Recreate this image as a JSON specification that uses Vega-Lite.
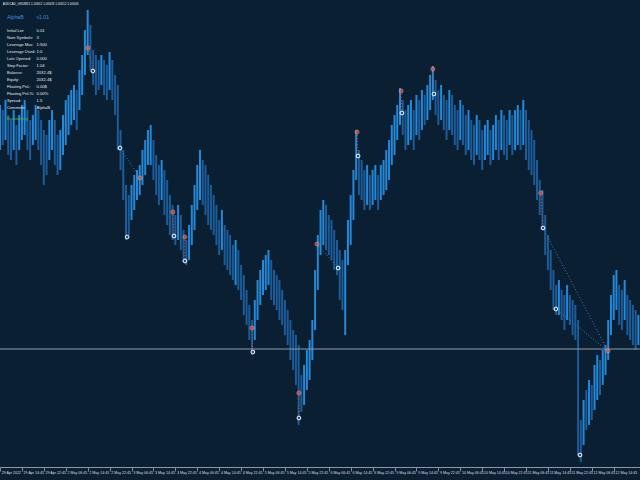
{
"$schema":"https://vega.github.io/schema/vega-lite/v6.json",
"width":640,"height":467,"autosize":"none","padding":{"left":0,"right":0,"top":0,"bottom":13},"background":"#0b1f33",
"config":{"view":{"stroke":null}},
"datasets":{
"bars":[
{"i":0,"h":0.9195,"l":0.9150,"d":"u"},{"i":1,"h":0.9190,"l":0.9155,"d":"d"},{"i":2,"h":0.9200,"l":0.9160,"d":"u"},{"i":3,"h":0.9185,"l":0.9145,"d":"d"},{"i":4,"h":0.9180,"l":0.9140,"d":"d"},{"i":5,"h":0.9190,"l":0.9150,"d":"u"},{"i":6,"h":0.9175,"l":0.9135,"d":"d"},{"i":7,"h":0.9185,"l":0.9150,"d":"u"},{"i":8,"h":0.9195,"l":0.9160,"d":"u"},{"i":9,"h":0.9200,"l":0.9165,"d":"u"},
{"i":10,"h":0.9190,"l":0.9150,"d":"d"},{"i":11,"h":0.9180,"l":0.9140,"d":"d"},{"i":12,"h":0.9185,"l":0.9155,"d":"u"},{"i":13,"h":0.9195,"l":0.9160,"d":"u"},{"i":14,"h":0.9190,"l":0.9150,"d":"d"},{"i":15,"h":0.9180,"l":0.9135,"d":"d"},{"i":16,"h":0.9170,"l":0.9115,"d":"d"},{"i":17,"h":0.9165,"l":0.9125,"d":"d"},{"i":18,"h":0.9180,"l":0.9140,"d":"u"},{"i":19,"h":0.9190,"l":0.9150,"d":"u"},
{"i":20,"h":0.9180,"l":0.9135,"d":"d"},{"i":21,"h":0.9165,"l":0.9125,"d":"d"},{"i":22,"h":0.9170,"l":0.9130,"d":"u"},{"i":23,"h":0.9185,"l":0.9145,"d":"u"},{"i":24,"h":0.9200,"l":0.9155,"d":"u"},{"i":25,"h":0.9205,"l":0.9165,"d":"u"},{"i":26,"h":0.9210,"l":0.9175,"d":"u"},{"i":27,"h":0.9215,"l":0.9180,"d":"u"},{"i":28,"h":0.9210,"l":0.9170,"d":"d"},{"i":29,"h":0.9230,"l":0.9190,"d":"u"},
{"i":30,"h":0.9245,"l":0.9205,"d":"u"},{"i":31,"h":0.9270,"l":0.9225,"d":"u"},{"i":32,"h":0.9290,"l":0.9245,"d":"u"},{"i":33,"h":0.9275,"l":0.9230,"d":"d"},{"i":34,"h":0.9250,"l":0.9215,"d":"d"},{"i":35,"h":0.9245,"l":0.9205,"d":"d"},{"i":36,"h":0.9240,"l":0.9210,"d":"d"},{"i":37,"h":0.9245,"l":0.9215,"d":"u"},{"i":38,"h":0.9240,"l":0.9205,"d":"d"},{"i":39,"h":0.9235,"l":0.9200,"d":"d"},
{"i":40,"h":0.9248,"l":0.9210,"d":"u"},{"i":41,"h":0.9240,"l":0.9200,"d":"d"},{"i":42,"h":0.9225,"l":0.9185,"d":"d"},{"i":43,"h":0.9215,"l":0.9150,"d":"d"},{"i":44,"h":0.9170,"l":0.9130,"d":"d"},{"i":45,"h":0.9150,"l":0.9100,"d":"d"},{"i":46,"h":0.9115,"l":0.9060,"d":"d"},{"i":47,"h":0.9105,"l":0.9065,"d":"d"},{"i":48,"h":0.9115,"l":0.9080,"d":"u"},{"i":49,"h":0.9125,"l":0.9090,"d":"u"},
{"i":50,"h":0.9130,"l":0.9100,"d":"u"},{"i":51,"h":0.9135,"l":0.9105,"d":"u"},{"i":52,"h":0.9150,"l":0.9115,"d":"u"},{"i":53,"h":0.9160,"l":0.9125,"d":"u"},{"i":54,"h":0.9170,"l":0.9135,"d":"u"},{"i":55,"h":0.9175,"l":0.9135,"d":"u"},{"i":56,"h":0.9160,"l":0.9120,"d":"d"},{"i":57,"h":0.9145,"l":0.9105,"d":"d"},{"i":58,"h":0.9135,"l":0.9095,"d":"d"},{"i":59,"h":0.9140,"l":0.9100,"d":"u"},
{"i":60,"h":0.9130,"l":0.9085,"d":"d"},{"i":61,"h":0.9120,"l":0.9075,"d":"d"},{"i":62,"h":0.9105,"l":0.9065,"d":"d"},{"i":63,"h":0.9095,"l":0.9060,"d":"d"},{"i":64,"h":0.9085,"l":0.9055,"d":"d"},{"i":65,"h":0.9095,"l":0.9060,"d":"u"},{"i":66,"h":0.9085,"l":0.9050,"d":"d"},{"i":67,"h":0.9070,"l":0.9038,"d":"d"},{"i":68,"h":0.9060,"l":0.9035,"d":"d"},{"i":69,"h":0.9075,"l":0.9040,"d":"u"},
{"i":70,"h":0.9095,"l":0.9055,"d":"u"},{"i":71,"h":0.9115,"l":0.9070,"d":"u"},{"i":72,"h":0.9135,"l":0.9090,"d":"u"},{"i":73,"h":0.9150,"l":0.9100,"d":"u"},{"i":74,"h":0.9140,"l":0.9095,"d":"d"},{"i":75,"h":0.9135,"l":0.9085,"d":"d"},{"i":76,"h":0.9125,"l":0.9075,"d":"d"},{"i":77,"h":0.9115,"l":0.9070,"d":"d"},{"i":78,"h":0.9105,"l":0.9065,"d":"d"},{"i":79,"h":0.9095,"l":0.9055,"d":"d"},
{"i":80,"h":0.9080,"l":0.9045,"d":"d"},{"i":81,"h":0.9090,"l":0.9050,"d":"u"},{"i":82,"h":0.9075,"l":0.9035,"d":"d"},{"i":83,"h":0.9070,"l":0.9030,"d":"d"},{"i":84,"h":0.9065,"l":0.9025,"d":"d"},{"i":85,"h":0.9055,"l":0.9020,"d":"d"},{"i":86,"h":0.9060,"l":0.9015,"d":"u"},{"i":87,"h":0.9050,"l":0.9010,"d":"d"},{"i":88,"h":0.9035,"l":0.9000,"d":"d"},{"i":89,"h":0.9025,"l":0.8985,"d":"d"},
{"i":90,"h":0.9010,"l":0.8975,"d":"d"},{"i":91,"h":0.8995,"l":0.8960,"d":"d"},{"i":92,"h":0.8980,"l":0.8945,"d":"d"},{"i":93,"h":0.9000,"l":0.8960,"d":"u"},{"i":94,"h":0.9020,"l":0.8980,"d":"u"},{"i":95,"h":0.9030,"l":0.8995,"d":"u"},{"i":96,"h":0.9040,"l":0.9005,"d":"u"},{"i":97,"h":0.9045,"l":0.9010,"d":"u"},{"i":98,"h":0.9050,"l":0.9015,"d":"u"},{"i":99,"h":0.9040,"l":0.9000,"d":"d"},
{"i":100,"h":0.9030,"l":0.8995,"d":"d"},{"i":101,"h":0.9025,"l":0.8990,"d":"d"},{"i":102,"h":0.9020,"l":0.8980,"d":"d"},{"i":103,"h":0.9010,"l":0.8975,"d":"d"},{"i":104,"h":0.9000,"l":0.8965,"d":"d"},{"i":105,"h":0.8990,"l":0.8955,"d":"d"},{"i":106,"h":0.8980,"l":0.8940,"d":"d"},{"i":107,"h":0.8970,"l":0.8930,"d":"d"},{"i":108,"h":0.8965,"l":0.8915,"d":"d"},{"i":109,"h":0.8955,"l":0.8875,"d":"d"},
{"i":110,"h":0.8925,"l":0.8888,"d":"d"},{"i":111,"h":0.8935,"l":0.8895,"d":"u"},{"i":112,"h":0.8950,"l":0.8910,"d":"u"},{"i":113,"h":0.8960,"l":0.8920,"d":"u"},{"i":114,"h":0.8980,"l":0.8940,"d":"u"},{"i":115,"h":0.9030,"l":0.8970,"d":"u"},{"i":116,"h":0.9065,"l":0.9010,"d":"u"},{"i":117,"h":0.9090,"l":0.9045,"d":"u"},{"i":118,"h":0.9100,"l":0.9055,"d":"u"},{"i":119,"h":0.9095,"l":0.9050,"d":"d"},
{"i":120,"h":0.9085,"l":0.9045,"d":"d"},{"i":121,"h":0.9080,"l":0.9040,"d":"d"},{"i":122,"h":0.9070,"l":0.9030,"d":"d"},{"i":123,"h":0.9060,"l":0.9025,"d":"d"},{"i":124,"h":0.9050,"l":0.9000,"d":"d"},{"i":125,"h":0.9040,"l":0.8990,"d":"d"},{"i":126,"h":0.9050,"l":0.8965,"d":"u"},{"i":127,"h":0.9080,"l":0.9035,"d":"u"},{"i":128,"h":0.9105,"l":0.9055,"d":"u"},{"i":129,"h":0.9130,"l":0.9080,"d":"u"},
{"i":130,"h":0.9170,"l":0.9120,"d":"u"},{"i":131,"h":0.9150,"l":0.9105,"d":"d"},{"i":132,"h":0.9140,"l":0.9100,"d":"d"},{"i":133,"h":0.9130,"l":0.9090,"d":"d"},{"i":134,"h":0.9135,"l":0.9095,"d":"u"},{"i":135,"h":0.9125,"l":0.9090,"d":"d"},{"i":136,"h":0.9130,"l":0.9095,"d":"u"},{"i":137,"h":0.9135,"l":0.9100,"d":"u"},{"i":138,"h":0.9125,"l":0.9090,"d":"d"},{"i":139,"h":0.9135,"l":0.9100,"d":"u"},
{"i":140,"h":0.9140,"l":0.9105,"d":"u"},{"i":141,"h":0.9150,"l":0.9110,"d":"u"},{"i":142,"h":0.9160,"l":0.9120,"d":"u"},{"i":143,"h":0.9175,"l":0.9135,"d":"u"},{"i":144,"h":0.9185,"l":0.9145,"d":"u"},{"i":145,"h":0.9195,"l":0.9160,"d":"u"},{"i":146,"h":0.9212,"l":0.9175,"d":"u"},{"i":147,"h":0.9200,"l":0.9165,"d":"d"},{"i":148,"h":0.9190,"l":0.9150,"d":"d"},{"i":149,"h":0.9195,"l":0.9155,"d":"u"},
{"i":150,"h":0.9200,"l":0.9160,"d":"u"},{"i":151,"h":0.9190,"l":0.9150,"d":"d"},{"i":152,"h":0.9205,"l":0.9165,"d":"u"},{"i":153,"h":0.9200,"l":0.9160,"d":"d"},{"i":154,"h":0.9210,"l":0.9170,"d":"u"},{"i":155,"h":0.9205,"l":0.9175,"d":"d"},{"i":156,"h":0.9215,"l":0.9180,"d":"u"},{"i":157,"h":0.9225,"l":0.9190,"d":"u"},{"i":158,"h":0.9234,"l":0.9200,"d":"u"},{"i":159,"h":0.9220,"l":0.9185,"d":"d"},
{"i":160,"h":0.9210,"l":0.9175,"d":"d"},{"i":161,"h":0.9215,"l":0.9180,"d":"u"},{"i":162,"h":0.9205,"l":0.9170,"d":"d"},{"i":163,"h":0.9200,"l":0.9160,"d":"d"},{"i":164,"h":0.9210,"l":0.9170,"d":"u"},{"i":165,"h":0.9205,"l":0.9165,"d":"d"},{"i":166,"h":0.9195,"l":0.9155,"d":"d"},{"i":167,"h":0.9190,"l":0.9150,"d":"d"},{"i":168,"h":0.9200,"l":0.9160,"d":"u"},{"i":169,"h":0.9195,"l":0.9155,"d":"d"},
{"i":170,"h":0.9185,"l":0.9145,"d":"d"},{"i":171,"h":0.9190,"l":0.9150,"d":"u"},{"i":172,"h":0.9180,"l":0.9140,"d":"d"},{"i":173,"h":0.9175,"l":0.9135,"d":"d"},{"i":174,"h":0.9185,"l":0.9145,"d":"u"},{"i":175,"h":0.9180,"l":0.9140,"d":"d"},{"i":176,"h":0.9170,"l":0.9130,"d":"d"},{"i":177,"h":0.9175,"l":0.9140,"d":"u"},{"i":178,"h":0.9180,"l":0.9145,"d":"u"},{"i":179,"h":0.9170,"l":0.9135,"d":"d"},
{"i":180,"h":0.9175,"l":0.9140,"d":"u"},{"i":181,"h":0.9185,"l":0.9150,"d":"u"},{"i":182,"h":0.9180,"l":0.9140,"d":"d"},{"i":183,"h":0.9190,"l":0.9150,"d":"u"},{"i":184,"h":0.9185,"l":0.9145,"d":"d"},{"i":185,"h":0.9180,"l":0.9140,"d":"d"},{"i":186,"h":0.9190,"l":0.9155,"d":"u"},{"i":187,"h":0.9185,"l":0.9145,"d":"d"},{"i":188,"h":0.9190,"l":0.9150,"d":"u"},{"i":189,"h":0.9195,"l":0.9155,"d":"u"},
{"i":190,"h":0.9190,"l":0.9150,"d":"d"},{"i":191,"h":0.9200,"l":0.9155,"d":"u"},{"i":192,"h":0.9190,"l":0.9140,"d":"d"},{"i":193,"h":0.9180,"l":0.9130,"d":"d"},{"i":194,"h":0.9170,"l":0.9125,"d":"d"},{"i":195,"h":0.9160,"l":0.9115,"d":"d"},{"i":196,"h":0.9140,"l":0.9100,"d":"d"},{"i":197,"h":0.9120,"l":0.9085,"d":"d"},{"i":198,"h":0.9110,"l":0.9070,"d":"d"},{"i":199,"h":0.9085,"l":0.9045,"d":"d"},
{"i":200,"h":0.9065,"l":0.9030,"d":"d"},{"i":201,"h":0.9050,"l":0.9010,"d":"d"},{"i":202,"h":0.9030,"l":0.8990,"d":"d"},{"i":203,"h":0.9015,"l":0.8985,"d":"d"},{"i":204,"h":0.9020,"l":0.8985,"d":"u"},{"i":205,"h":0.9010,"l":0.8980,"d":"d"},{"i":206,"h":0.9005,"l":0.8970,"d":"d"},{"i":207,"h":0.9015,"l":0.8980,"d":"u"},{"i":208,"h":0.9005,"l":0.8975,"d":"d"},{"i":209,"h":0.9000,"l":0.8965,"d":"d"},
{"i":210,"h":0.8995,"l":0.8960,"d":"d"},{"i":211,"h":0.8980,"l":0.8845,"d":"d"},{"i":212,"h":0.8880,"l":0.8838,"d":"d"},{"i":213,"h":0.8900,"l":0.8855,"d":"u"},{"i":214,"h":0.8910,"l":0.8870,"d":"d"},{"i":215,"h":0.8920,"l":0.8875,"d":"u"},{"i":216,"h":0.8915,"l":0.8880,"d":"d"},{"i":217,"h":0.8935,"l":0.8890,"d":"u"},{"i":218,"h":0.8945,"l":0.8900,"d":"u"},{"i":219,"h":0.8940,"l":0.8905,"d":"d"},
{"i":220,"h":0.8950,"l":0.8915,"d":"u"},{"i":221,"h":0.8955,"l":0.8925,"d":"u"},{"i":222,"h":0.8980,"l":0.8940,"d":"u"},{"i":223,"h":0.9005,"l":0.8965,"d":"u"},{"i":224,"h":0.9025,"l":0.8980,"d":"u"},{"i":225,"h":0.9030,"l":0.8990,"d":"u"},{"i":226,"h":0.9015,"l":0.8975,"d":"d"},{"i":227,"h":0.9010,"l":0.8970,"d":"d"},{"i":228,"h":0.9020,"l":0.8980,"d":"u"},{"i":229,"h":0.9005,"l":0.8965,"d":"d"},
{"i":230,"h":0.9000,"l":0.8960,"d":"d"},{"i":231,"h":0.8995,"l":0.8955,"d":"d"},{"i":232,"h":0.8990,"l":0.8950,"d":"d"},{"i":233,"h":0.8985,"l":0.8955,"d":"u"}
],
"bid":[{"name":"Bid","p":0.8951}],
"trades":[
{"i":32.1,"p":0.9252,"t":"open"},{"i":33.9,"p":0.9229,"t":"close"},
{"i":43.8,"p":0.9152,"t":"close"},{"i":51.1,"p":0.9122,"t":"open"},
{"i":46.4,"p":0.9063,"t":"close"},
{"i":63.1,"p":0.9088,"t":"open"},{"i":63.5,"p":0.9064,"t":"close"},
{"i":67.5,"p":0.9063,"t":"open"},{"i":67.5,"p":0.9039,"t":"close"},
{"i":92.0,"p":0.8972,"t":"open"},{"i":92.3,"p":0.8948,"t":"close"},
{"i":109.1,"p":0.8907,"t":"open"},{"i":109.1,"p":0.8882,"t":"close"},
{"i":115.7,"p":0.9056,"t":"open"},{"i":123.4,"p":0.9032,"t":"close"},
{"i":130.3,"p":0.9168,"t":"open"},{"i":130.7,"p":0.9144,"t":"close"},
{"i":146.4,"p":0.9209,"t":"open"},{"i":146.7,"p":0.9187,"t":"close"},
{"i":158.0,"p":0.9231,"t":"open"},{"i":158.4,"p":0.9206,"t":"close"},
{"i":197.4,"p":0.9107,"t":"open"},{"i":198.2,"p":0.9072,"t":"close"},
{"i":202.9,"p":0.8991,"t":"close"},{"i":211.7,"p":0.8845,"t":"close"},
{"i":221.9,"p":0.8949,"t":"open"}
],
"links":[
{"i1":32.1,"p1":0.9252,"i2":33.9,"p2":0.9229,"k":"r"},
{"i1":43.8,"p1":0.9152,"i2":51.1,"p2":0.9122,"k":"b"},
{"i1":63.1,"p1":0.9088,"i2":63.5,"p2":0.9064,"k":"r"},
{"i1":67.5,"p1":0.9063,"i2":67.5,"p2":0.9039,"k":"r"},
{"i1":92.0,"p1":0.8972,"i2":92.3,"p2":0.8948,"k":"r"},
{"i1":109.1,"p1":0.8907,"i2":109.1,"p2":0.8882,"k":"r"},
{"i1":115.7,"p1":0.9056,"i2":123.4,"p2":0.9032,"k":"b"},
{"i1":130.3,"p1":0.9168,"i2":130.7,"p2":0.9144,"k":"r"},
{"i1":146.4,"p1":0.9209,"i2":146.7,"p2":0.9187,"k":"r"},
{"i1":158.0,"p1":0.9231,"i2":158.4,"p2":0.9206,"k":"r"},
{"i1":197.4,"p1":0.9107,"i2":198.2,"p2":0.9072,"k":"r"},
{"i1":198.2,"p1":0.9072,"i2":221.9,"p2":0.8949,"k":"b"},
{"i1":202.9,"p1":0.8991,"i2":221.9,"p2":0.8949,"k":"b"}
],
"panel":[
{"k":-1.86,"a":"AUDCAD_GKUM15  1.00612 1.00618 1.00612 1.00646","b":"","g":"h"},
{"k":0,"a":"AlphaB","b":"v1.01","g":"t"},
{"k":2,"a":"Initial Lot:","b":"0.01","g":"r"},
{"k":3,"a":"Num Symbols:","b":"3","g":"r"},
{"k":4,"a":"Leverage Max:","b":"1:500","g":"r"},
{"k":5,"a":"Leverage Used:","b":"1:0","g":"r"},
{"k":6,"a":"Lots Opened:","b":"0.000","g":"r"},
{"k":7,"a":"Step Factor:","b":"1.04","g":"r"},
{"k":8,"a":"Balance:","b":"2032.4$","g":"r"},
{"k":9,"a":"Equity:","b":"2032.4$","g":"r"},
{"k":10,"a":"Floating PnL:","b":"0.00$","g":"r"},
{"k":11,"a":"Floating PnL%:","b":"0.00%","g":"r"},
{"k":12,"a":"Spread:","b":"1.5","g":"r"},
{"k":13,"a":"Comment:","b":"AlphaB","g":"r"},
{"k":14.5,"a":"Backtesting","b":"","g":"g"}
]
},
"layer":[
{"layer":[
{"data":{"name":"bars"},"mark":{"type":"rule","strokeWidth":2.0},
 "encoding":{
  "x":{"field":"i","type":"quantitative","scale":{"domain":[0,233.6],"nice":false,"zero":false},
   "axis":{"values":[0,8,16,24,32,40,48,56,64,72,80,88,96,104,112,120,128,136,144,152,160,168,176,184,192,200,208,216,224],
    "tickCount":40,
    "labelExpr":"['29 Apr 2022','29 Apr 14:45','29 Apr 22:45','2 May 06:45','2 May 14:45','2 May 22:45','3 May 06:45','3 May 14:45','3 May 22:45','4 May 06:45','4 May 14:45','4 May 22:45','5 May 06:45','5 May 14:45','5 May 22:45','6 May 06:45','6 May 14:45','6 May 22:45','9 May 06:45','9 May 14:45','9 May 22:45','10 May 06:45','10 May 14:45','10 May 22:45','11 May 06:45','11 May 14:45','11 May 22:45','12 May 06:45','12 May 14:45'][round(datum.value/8)]",
    "labelAlign":"left","labelBaseline":"top","labelPadding":-1,"labelOffset":1.2,
    "labelFont":"Liberation Sans","labelFontSize":3.6,"labelColor":"#d8dee6",
    "tickColor":"#7f8d9b","tickSize":4,"domainColor":"#8a97a5","grid":false,"title":null,
    "labelOverlap":false,"labelFlush":false,"labelBound":false}},
  "y":{"field":"h","type":"quantitative","scale":{"domain":[0.8833,0.93],"nice":false,"zero":false},"axis":null},
  "y2":{"field":"l"},
  "color":{"condition":{"test":"datum.d=='u'","value":"#2389d8"},"value":"#1b5c99"}}},
{"data":{"name":"bid"},"mark":{"type":"rule","color":"#8c9cae","strokeWidth":1},
 "encoding":{"y":{"field":"p","type":"quantitative"}}},
{"data":{"name":"links"},"mark":{"type":"rule","strokeDash":[1,2],"strokeWidth":1},
 "encoding":{"x":{"field":"i1","type":"quantitative"},"x2":{"field":"i2"},"y":{"field":"p1","type":"quantitative"},"y2":{"field":"p2"},
  "color":{"condition":{"test":"datum.k=='r'","value":"#d8442c"},"value":"#3a7fc0"}}},
{"data":{"name":"trades"},"transform":[{"filter":"datum.t=='open'"}],
 "mark":{"type":"point","shape":"circle","filled":true,"size":18,"color":"#f0553a","stroke":"#ffb8a8","strokeWidth":0.6},
 "encoding":{"x":{"field":"i","type":"quantitative"},"y":{"field":"p","type":"quantitative"}}},
{"data":{"name":"trades"},"transform":[{"filter":"datum.t=='close'"}],
 "mark":{"type":"point","shape":"circle","filled":true,"size":14,"fill":"#1d4f86","stroke":"#ffffff","strokeWidth":1,"opacity":1},
 "encoding":{"x":{"field":"i","type":"quantitative"},"y":{"field":"p","type":"quantitative"}}}
]},
{"data":{"name":"panel"},
 "encoding":{"y":{"field":"k","type":"quantitative","scale":{"domain":[-2.43,64.28],"reverse":true,"nice":false,"zero":false},"axis":null}},
 "layer":[
 {"transform":[{"filter":"datum.g=='h'"}],"mark":{"type":"text","align":"left","baseline":"middle","font":"Liberation Sans","fontSize":3.1,"color":"#e8e8e8"},
  "encoding":{"x":{"datum":1.0,"type":"quantitative"},"text":{"field":"a"}}},
 {"transform":[{"filter":"datum.g!='h'"}],"mark":{"type":"text","align":"left","baseline":"middle","font":"Liberation Sans"},
  "encoding":{"x":{"datum":2.55,"type":"quantitative"},"text":{"field":"a"},
   "size":{"condition":{"test":"datum.g=='t'","value":5.2},"value":4.0},
   "color":{"condition":[{"test":"datum.g=='t'","value":"#3a90dc"},{"test":"datum.g=='g'","value":"#3fcf3f"}],"value":"#e6e6e6"}}},
 {"transform":[{"filter":"datum.g!='h'"}],"mark":{"type":"text","align":"left","baseline":"middle","font":"Liberation Sans"},
  "encoding":{"x":{"datum":13.3,"type":"quantitative"},"text":{"field":"b"},
   "size":{"condition":{"test":"datum.g=='t'","value":5.2},"value":4.2},
   "color":{"condition":{"test":"datum.g=='t'","value":"#3a90dc"},"value":"#e6e6e6"}}}
 ]}
],
"resolve":{"scale":{"y":"independent"}}
}
